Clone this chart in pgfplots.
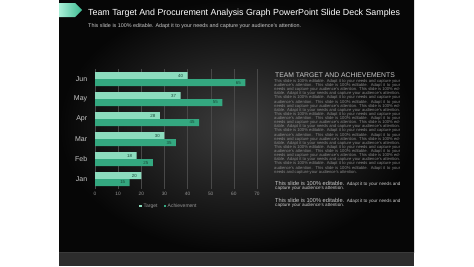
\documentclass[border=0pt]{standalone}
\usepackage{pgfplots}
\pgfplotsset{compat=1.18}
\usepackage{fontspec}
\setmainfont{Liberation Sans}
\definecolor{tgt}{RGB}{140,220,190}
\definecolor{ach}{RGB}{52,168,128}
\definecolor{gridc}{RGB}{72,72,72}
\definecolor{lbl}{RGB}{200,200,200}
\definecolor{small}{RGB}{150,150,150}
\definecolor{para}{RGB}{135,135,135}
\definecolor{valc}{RGB}{25,70,55}
\definecolor{bginner}{RGB}{60,60,60}
\definecolor{bgouter}{RGB}{6,6,6}
\definecolor{band}{RGB}{44,44,44}
\definecolor{bandline}{RGB}{58,58,58}
\definecolor{arrl}{RGB}{170,240,215}
\definecolor{arrr}{RGB}{60,185,145}
\newcommand{\s}{This slide is 100\% editable. Adapt it to your needs and capture your audience's attention. }
\begin{document}
\begin{tikzpicture}[x=1pt,y=1pt]
\useasboundingbox (0,0) rectangle (474,266);
\fill[white] (0,0) rectangle (474,266);
\shade[inner color=bginner, outer color=bgouter] (59,14) rectangle (414,266);
\fill[band] (59,0) rectangle (414,14);
\draw[bandline, line width=0.6pt] (59,14) -- (414,14);
% arrow
\shade[left color=arrl, right color=arrr] (59,263) -- (75,263) -- (82,256) -- (75,249) -- (59,249) -- cycle;
\node[anchor=base west, inner sep=0pt, text=white, font=\fontsize{8.85}{10}\selectfont] at (88,251) {Team Target And Procurement Analysis Graph PowerPoint Slide Deck Samples};
\node[anchor=base west, inner sep=0pt, text=lbl, font=\fontsize{5.4}{6}\selectfont] at (88,239) {This slide is 100\% editable. Adapt it to your needs and capture your audience's attention.};
\begin{axis}[
  at={(95pt,77pt)}, anchor=south west, scale only axis,
  width=162pt, height=120pt,
  xbar, bar width=7pt,
  xmin=0, xmax=70, ymin=0.5, ymax=6.5,
  ytick={1,2,3,4,5,6}, yticklabels={Jan,Feb,Mar,Apr,May,Jun},
  xtick={0,10,...,70},
  xmajorgrids, major grid style={draw=gridc, line width=0.4pt},
  axis line style={draw=none}, tick style={draw=none},
  /pgf/number format/assume math mode=true,
  y tick label style={font=\fontsize{7}{8}\selectfont, text=lbl},
  x tick label style={font=\fontsize{4.8}{5}\selectfont, text=small},
  nodes near coords,
  every node near coord/.append style={font=\fontsize{4.4}{5}\selectfont, text=valc, anchor=east, xshift=-1pt},
  legend style={at={(0.457,-0.142)}, anchor=center, legend columns=2, draw=none, fill=none, font=\fontsize{5}{6}\selectfont, text=small, inner sep=0pt, /tikz/every even column/.append style={column sep=4pt}},
  legend image code/.code={\fill[#1] (0pt,-1pt) rectangle (2.2pt,1.2pt);},
]
\addplot[fill=tgt, draw=none, bar shift=3.5pt] coordinates {(20,1) (18,2) (30,3) (28,4) (37,5) (40,6)};
\addplot[fill=ach, draw=none, bar shift=-3.5pt] coordinates {(15,1) (25,2) (35,3) (45,4) (55,5) (65,6)};
\legend{Target, Achievement}
\end{axis}
% right panel
\node[anchor=base west, inner sep=0pt, text=lbl, font=\fontsize{6.8}{7}\selectfont] at (275,189) {TEAM TARGET AND ACHIEVEMENTS};
\node[anchor=base west, inner sep=0pt, text width=126pt, align=justify, text=para, font=\fontsize{4.15}{4.12}\selectfont] at (274,183.5) {\s\s\s\s\s\s\s\s\s\s\s\s\s\s\s\s\s};
\node[anchor=base west, inner sep=0pt, align=left, text=lbl, font=\fontsize{4.6}{4.3}\selectfont] at (275,76.5) {{\fontsize{5.7}{6}\selectfont This slide is 100\% editable.}\ \ Adapt it to your needs and\\capture your audience's attention.};
\node[anchor=base west, inner sep=0pt, align=left, text=lbl, font=\fontsize{4.6}{4.3}\selectfont] at (275,59.5) {{\fontsize{5.7}{6}\selectfont This slide is 100\% editable.}\ \ Adapt it to your needs and\\capture your audience's attention.};
\end{tikzpicture}
\end{document}
